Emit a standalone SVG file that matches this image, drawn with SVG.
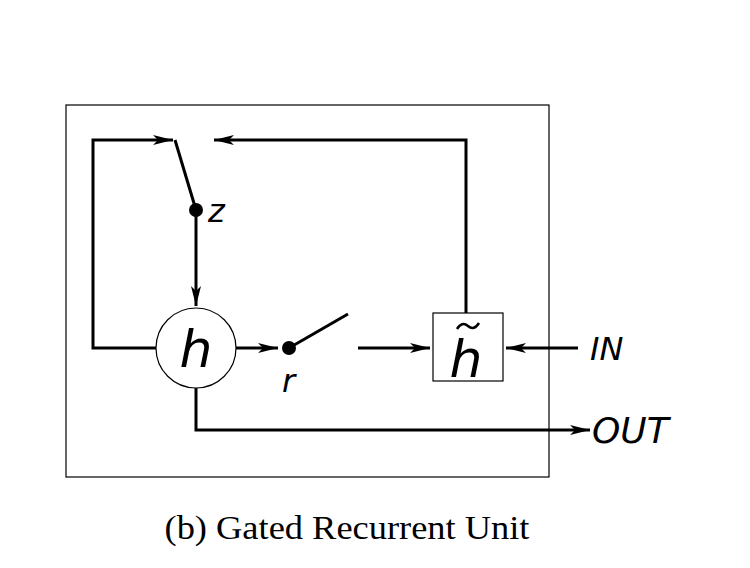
<svg xmlns="http://www.w3.org/2000/svg" width="750" height="568" viewBox="0 0 750 568">
<defs><marker id="a" viewBox="0 0 20 10" refX="20" refY="5" markerWidth="20" markerHeight="10" markerUnits="userSpaceOnUse" orient="auto"><path d="M0,0 L20,5 L0,10 L5,5 Z" fill="#000"/></marker></defs>
<style>.l{fill:none;stroke:#000;stroke-width:3}.t{font-family:"DejaVu Sans",sans-serif;font-style:italic}</style>
<rect width="750" height="568" fill="#fff"/>
<rect x="66" y="105" width="483" height="372" fill="none" stroke="#000" stroke-width="1.2"/>
<g id="connectors">
<path class="l" d="M156,348 H93 V140 H173" marker-end="url(#a)"/>
<path class="l" d="M175,140 L196,210"/>
<path class="l" d="M196,210 V306" marker-end="url(#a)"/>
<path class="l" d="M466,313 V140 H214" marker-end="url(#a)"/>
<path class="l" d="M236,348 H278" marker-end="url(#a)"/>
<path class="l" d="M289,348 L348,314"/>
<path class="l" d="M358,348 H430" marker-end="url(#a)"/>
<path class="l" d="M578,348 H506" marker-end="url(#a)"/>
<path class="l" d="M196,388 V430 H590" marker-end="url(#a)"/>
</g>
<g id="z"><circle cx="196" cy="210" r="7"/><text class="t" x="208" y="222" font-size="32">z</text></g>
<g id="r"><circle cx="289" cy="348" r="7"/><text class="t" x="282" y="392" font-size="32">r</text></g>
<g id="h"><circle cx="196" cy="348" r="40" fill="#fff" stroke="#000" stroke-width="1.2"/><text class="t" x="196" y="367" font-size="52" text-anchor="middle">h</text></g>
<g id="htilde"><rect x="433" y="313" width="70" height="68" fill="#fff" stroke="#000" stroke-width="1.2"/><text class="t" x="466" y="377" font-size="52" text-anchor="middle">h</text><path d="M457,329 Q462,321 468,326 Q474,331 479,323" fill="none" stroke="#000" stroke-width="2.5"/></g>
<text class="t" x="590" y="360" font-size="32">IN</text>
<text class="t" x="592" y="443" font-size="36">OUT</text>
<text x="347" y="539" font-size="34" text-anchor="middle" font-family="Liberation Serif,serif" textLength="365" lengthAdjust="spacingAndGlyphs">(b) Gated Recurrent Unit</text>
</svg>
